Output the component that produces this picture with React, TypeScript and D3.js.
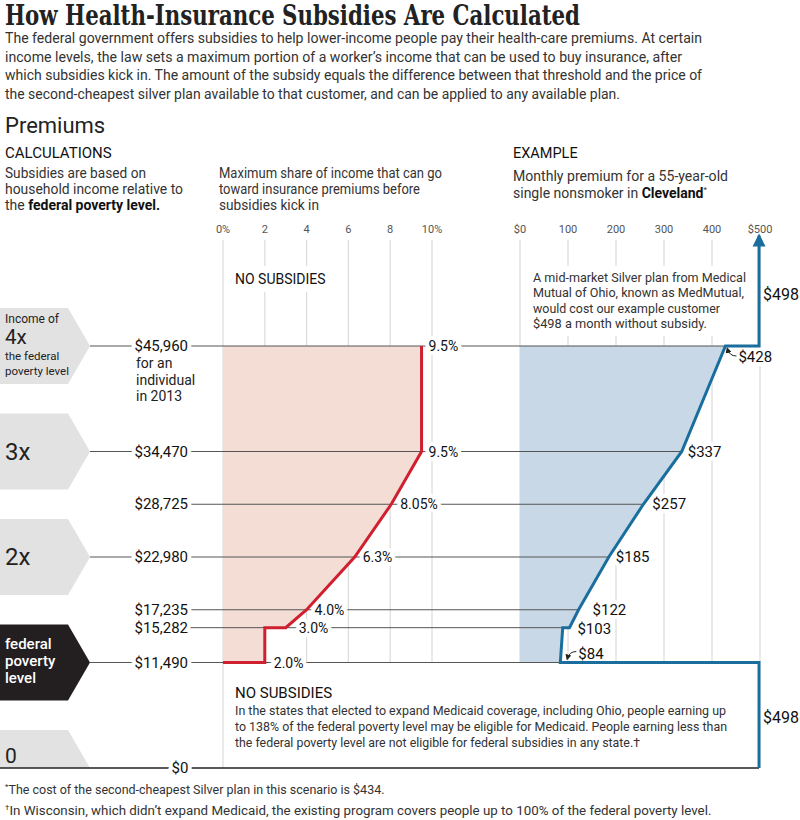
import React from "react";
import * as d3 from "d3";

// axis ticks
const shareTicks = [0, 2, 4, 6, 8, 10];
const shareTickLabels = ["0%", "2", "4", "6", "8", "10%"];
const premiumTicks = [0, 100, 200, 300, 400, 500];
const premiumTickLabels = ["$0", "100", "200", "300", "400", "$500"];

// income thresholds, top to bottom
const incomes = [45960, 34470, 28725, 22980, 17235, 15282, 11490];
const incomeLabels = ["$45,960", "$34,470", "$28,725", "$22,980", "$17,235", "$15,282", "$11,490"];
const maxShares = [9.5, 9.5, 8.05, 6.3, 4.0, 3.0, 2.0];
const shareLabels = ["9.5%", "9.5%", "8.05%", "6.3%", "4.0%", "3.0%", "2.0%"];
const premiums = [428, 337, 257, 185, 122, 103, 84];
const premiumLabels = ["$428", "$337", "$257", "$185", "$122", "$103", "$84"];

// red line: max share of income
const redShare = [0, 2.0, 2.0, 3.0, 4.0, 6.3, 8.05, 9.5, 9.5];
const redIncome = [11490, 11490, 15282, 15282, 17235, 22980, 28725, 34470, 45960];

// blue line: monthly premium paid
const bluePremium = [498, 498, 84, 89, 103, 122, 185, 257, 337, 428, 498, 498];
const blueIncome = [0, 11490, 11490, 15282, 15282, 17235, 22980, 28725, 34470, 45960, 45960, 58000];

// poverty level multiples
const povertyIncomes = [45960, 34470, 22980, 11490, 0];
const povertyNames = ["4x", "3x", "2x", "fpl", "0"];

const FONT = "Roboto, 'Open Sans', sans-serif";

const xS = d3.scaleLinear().domain([0, 10]).range([223, 432]);
const xP = d3.scaleLinear().domain([0, 500]).range([520, 760]);
const yI = d3.scaleLinear().domain([0, 45960]).range([768, 346]);

const gridTop = 240;
const halo = { paintOrder: "stroke", stroke: "#fff", strokeWidth: 8, strokeLinejoin: "round" } as any;

const shareDx = [7, 7, 9, 8, 8, 13, 9];
const premDx = [13, 6, 9, 7, 14, 8, 18];
const premDy = [16, 5, 5, 5, 5, 6, -4];

function chevron(c: number, half: boolean) {
  const h = 38;
  if (half) return `M0,${c - h}L68,${c - h}L90,${c}L0,${c}Z`;
  return `M0,${c - h}L68,${c - h}L90,${c}L68,${c + h}L0,${c + h}Z`;
}

export default function App() {
  const redPts = redShare.map((s, i) => [s, redIncome[i]] as [number, number]);
  const redLine = d3.line<[number, number]>().x((d) => xS(d[0])).y((d) => yI(d[1]));
  const redArea = d3
    .area<[number, number]>()
    .x0(xS(0))
    .x1((d) => xS(d[0]))
    .y((d) => yI(d[1]));

  const bluePts = bluePremium.map((p, i) => [p, blueIncome[i]] as [number, number]);
  const blueLine = d3.line<[number, number]>().x((d) => xP(d[0])).y((d) => yI(d[1]));
  const blueArea = d3
    .area<[number, number]>()
    .x0(xP(0))
    .x1((d) => xP(d[0]))
    .y((d) => yI(d[1]));
  const blueTop = bluePts[bluePts.length - 1];
  const bx = xP(blueTop[0]);
  const by = yI(blueTop[1]);

  const fplY = yI(11490);
  const zeroY = yI(0);

  return (
    <svg
      width={800}
      height={820}
      style={{ position: "absolute", left: 0, top: 0, background: "#fff" }}
      fontFamily={FONT}
    >
      <defs>
        <marker id="ah" markerWidth="6" markerHeight="6" refX="4" refY="3" orient="auto">
          <path d="M0,0L6,3L0,6Z" fill="#222" />
        </marker>
      </defs>

      {/* header */}
      <text x={5} y={25} fontFamily="'DejaVu Serif Condensed', 'DejaVu Serif', serif" fontWeight="bold"
        fontSize={27} fill="#222" textLength={575} lengthAdjust="spacingAndGlyphs">
        How Health-Insurance Subsidies Are Calculated
      </text>
      {[
        ["The federal government offers subsidies to help lower-income people pay their health-care premiums. At certain", 697],
        ["income levels, the law sets a maximum portion of a worker’s income that can be used to buy insurance, after", 677],
        ["which subsidies kick in. The amount of the subsidy equals the difference between that threshold and the price of", 697],
        ["the second-cheapest silver plan available to that customer, and can be applied to any available plan.", 615],
      ].map(([t, w], i) => (
        <text key={i} x={5} y={43 + i * 18.7} fontSize={15} fill="#333"
          textLength={w as number} lengthAdjust="spacingAndGlyphs">
          {t}
        </text>
      ))}
      <text x={5} y={133} fontSize={22} fill="#222">Premiums</text>

      <text x={5} y={158} fontSize={15} fill="#111">CALCULATIONS</text>
      <text x={5} y={178} fontSize={14} fill="#333" textLength={141} lengthAdjust="spacingAndGlyphs">Subsidies are based on</text>
      <text x={5} y={194} fontSize={14} fill="#333" textLength={178} lengthAdjust="spacingAndGlyphs">household income relative to</text>
      <text x={5} y={210} fontSize={14} fill="#333">
        the <tspan fontWeight="bold" fill="#111">federal poverty level.</tspan>
      </text>

      <text x={219} y={178} fontSize={14} fill="#333" textLength={223} lengthAdjust="spacingAndGlyphs">Maximum share of income that can go</text>
      <text x={219} y={194} fontSize={14} fill="#333" textLength={201} lengthAdjust="spacingAndGlyphs">toward insurance premiums before</text>
      <text x={219} y={210} fontSize={14} fill="#333" textLength={100} lengthAdjust="spacingAndGlyphs">subsidies kick in</text>

      <text x={513} y={158} fontSize={14.5} fill="#111">EXAMPLE</text>
      <text x={513} y={181} fontSize={14} fill="#333" textLength={215} lengthAdjust="spacingAndGlyphs">Monthly premium for a 55-year-old</text>
      <text x={513} y={198} fontSize={14} fill="#333">
        single nonsmoker in <tspan fontWeight="bold" fill="#111">Cleveland</tspan>
        <tspan fontSize={8} dy={-6}>*</tspan>
      </text>

      {/* tick labels */}
      {shareTicks.map((t, i) => (
        <text key={"st" + t} x={xS(t)} y={233} fontSize={11} fill="#555" textAnchor="middle">
          {shareTickLabels[i]}
        </text>
      ))}
      {premiumTicks.map((t, i) => (
        <text key={"pt" + t} x={xP(t)} y={233} fontSize={11} fill="#555" textAnchor="middle">
          {premiumTickLabels[i]}
        </text>
      ))}

      {/* gridlines */}
      {shareTicks.map((t) => (
        <line key={"sg" + t} x1={xS(t)} x2={xS(t)} y1={gridTop} y2={t === 0 ? zeroY : fplY}
          stroke="#dcdcdc" strokeWidth={1.2} />
      ))}
      {premiumTicks.map((t) => (
        <line key={"pg" + t} x1={xP(t)} x2={xP(t)} y1={gridTop} y2={fplY} stroke="#dcdcdc" strokeWidth={1.2} />
      ))}

      {/* fills */}
      <path d={redArea(redPts) || ""} fill="#f3ddd5" />
      <path d={blueArea(bluePts.slice(2, 10)) || ""} fill="#c9d8e6" />

      {/* white label boxes */}
      <rect x={226} y={266} width={108} height={26} fill="#fff" />
      <text x={235} y={284} fontSize={14} fill="#111">NO SUBSIDIES</text>

      <rect x={528} y={266} width={224} height={70} fill="#fff" />
      {[
        ["A mid-market Silver plan from Medical", 213],
        ["Mutual of Ohio, known as MedMutual,", 211],
        ["would cost our example customer", 187],
        ["$498 a month without subsidy.", 174],
      ].map(([t, w], i) => (
        <text key={"ann" + i} x={533} y={282 + i * 15.4} fontSize={13.5} fill="#333"
          textLength={w as number} lengthAdjust="spacingAndGlyphs">
          {t}
        </text>
      ))}

      {/* chevrons */}
      {povertyIncomes.map((inc, i) => (
        <path key={"ch" + i} d={chevron(yI(inc), inc === 0)} fill={povertyNames[i] === "fpl" ? "#231f20" : "#e2e2e2"} />
      ))}
      <text x={5} y={323} fontSize={12} fill="#222">Income of</text>
      <text x={5} y={344} fontSize={20.5} fill="#222">4x</text>
      <text x={5} y={360} fontSize={11.5} fill="#222">the federal</text>
      <text x={5} y={375} fontSize={11.5} fill="#222">poverty level</text>
      <text x={5} y={yI(34470) + 8} fontSize={24} fill="#222">3x</text>
      <text x={5} y={yI(22980) + 8} fontSize={24} fill="#222">2x</text>
      <text x={5} y={fplY - 14} fontSize={15} fontWeight={500} fill="#fff">federal</text>
      <text x={5} y={fplY + 3} fontSize={15} fontWeight={500} fill="#fff">poverty</text>
      <text x={5} y={fplY + 20} fontSize={15} fontWeight={500} fill="#fff">level</text>
      <text x={5} y={763} fontSize={21} fill="#222">0</text>

      {/* leader lines */}
      {incomes.map((inc, i) => {
        const y = yI(inc);
        const start = povertyIncomes.includes(inc) ? 90 : 190;
        return (
          <line key={"ll" + i} x1={start} x2={xP(premiums[i])} y1={y} y2={y} stroke="#555" strokeWidth={1} />
        );
      })}
      <line x1={0} x2={xP(498)} y1={zeroY} y2={zeroY} stroke="#222" strokeWidth={1.6} />

      {/* income labels */}
      {incomes.map((inc, i) => (
        <text key={"il" + i} x={188} y={yI(inc) + 5} fontSize={15} fill="#111" textAnchor="end" style={halo}>
          {incomeLabels[i]}
        </text>
      ))}
      <text x={180} y={zeroY + 5} fontSize={15} fill="#111" textAnchor="middle" style={halo}>$0</text>
      <text x={136} y={368} fontSize={14} fill="#222">for an</text>
      <text x={136} y={385} fontSize={14} fill="#222">individual</text>
      <text x={136} y={401} fontSize={14} fill="#222">in 2013</text>

      {/* share labels */}
      {incomes.map((inc, i) => (
        <text key={"sl" + i} x={xS(maxShares[i]) + shareDx[i]} y={yI(inc) + 5} fontSize={14} fill="#111" style={halo}>
          {shareLabels[i]}
        </text>
      ))}

      {/* premium labels */}
      {incomes.map((inc, i) => (
        <text key={"pl" + i} x={xP(premiums[i]) + premDx[i]} y={yI(inc) + premDy[i]} fontSize={15} fill="#111" style={halo}>
          {premiumLabels[i]}
        </text>
      ))}
      <path d={`M${xP(428) + 11},${yI(45960) + 10}Q${xP(428) + 4},${yI(45960) + 10} ${xP(428) + 2},${yI(45960) + 3}`}
        fill="none" stroke="#222" strokeWidth={1} markerEnd="url(#ah)" />
      <path d={`M${xP(84) + 16},${fplY - 11}Q${xP(84) + 9},${fplY - 11} ${xP(84) + 7},${fplY - 4}`}
        fill="none" stroke="#222" strokeWidth={1} markerEnd="url(#ah)" />
      <text x={763} y={300} fontSize={16} fill="#111">$498</text>
      <text x={763} y={723} fontSize={16} fill="#111">$498</text>

      {/* bottom box text */}
      <text x={235} y={698} fontSize={15} fill="#111">NO SUBSIDIES</text>
      {[
        ["In the states that elected to expand Medicaid coverage, including Ohio, people earning up", 491],
        ["to 138% of the federal poverty level may be eligible for Medicaid. People earning less than", 492],
        ["the federal poverty level are not eligible for federal subsidies in any state.†", 405],
      ].map(([t, w], i) => (
        <text key={"bx" + i} x={235} y={715 + i * 15.8} fontSize={13.5} fill="#333"
          textLength={w as number} lengthAdjust="spacingAndGlyphs">
          {t}
        </text>
      ))}

      {/* lines */}
      <path d={redLine(redPts) || ""} fill="none" stroke="#d01f2e" strokeWidth={3} />
      <path d={blueLine(bluePts) || ""} fill="none" stroke="#1a6e9e" strokeWidth={3} />
      <path d={`M${bx},${by - 2}L${bx - 6.5},${by + 11}L${bx + 6.5},${by + 11}Z`} fill="#1a6e9e" />

      {/* footnotes */}
      <text x={5} y={794} fontSize={12.5} fill="#333">
        <tspan fontSize={8} dy={-5}>*</tspan>
        <tspan dy={5} textLength={376} lengthAdjust="spacingAndGlyphs">The cost of the second-cheapest Silver plan in this scenario is $434.</tspan>
      </text>
      <text x={5} y={815} fontSize={12.5} fill="#333">
        <tspan fontSize={8} dy={-5}>†</tspan>
        <tspan dy={5} textLength={702} lengthAdjust="spacingAndGlyphs">In Wisconsin, which didn’t expand Medicaid, the existing program covers people up to 100% of the federal poverty level.</tspan>
      </text>
    </svg>
  );
}
